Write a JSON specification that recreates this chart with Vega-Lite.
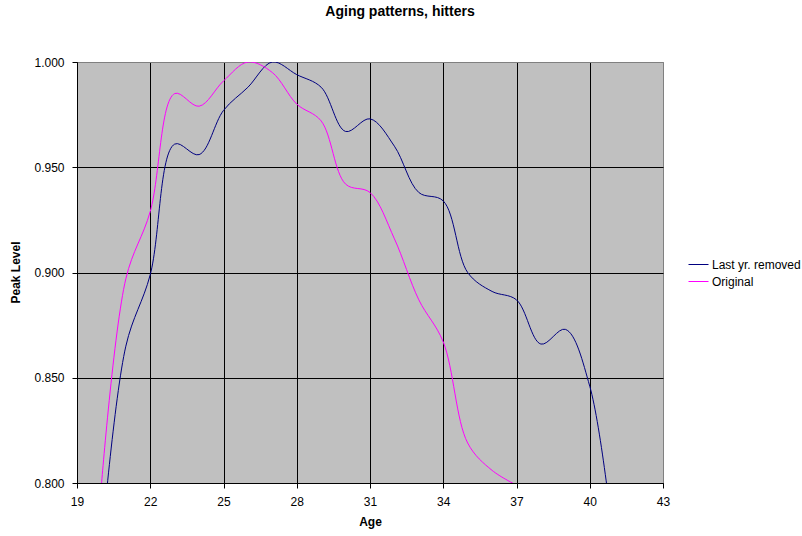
{
  "$schema": "https://vega.github.io/schema/vega-lite/v6.json",
  "autosize": {"type": "none"},
  "width": 586,
  "height": 421,
  "padding": {"left": 77, "top": 62, "right": 139, "bottom": 53},
  "background": "white",
  "title": {
    "text": "Aging patterns, hitters",
    "font": "Liberation Sans",
    "fontSize": 14,
    "fontWeight": "bold",
    "color": "black",
    "anchor": "middle",
    "dx": 30,
    "offset": 37
  },
  "data": {
    "values": [
      {"age": 20, "level": 0.770, "series": "Last yr. removed"},
      {"age": 21, "level": 0.865, "series": "Last yr. removed"},
      {"age": 22, "level": 0.899, "series": "Last yr. removed"},
      {"age": 23, "level": 0.961, "series": "Last yr. removed"},
      {"age": 24, "level": 0.956, "series": "Last yr. removed"},
      {"age": 25, "level": 0.977, "series": "Last yr. removed"},
      {"age": 26, "level": 0.988, "series": "Last yr. removed"},
      {"age": 27, "level": 1.000, "series": "Last yr. removed"},
      {"age": 28, "level": 0.994, "series": "Last yr. removed"},
      {"age": 29, "level": 0.988, "series": "Last yr. removed"},
      {"age": 30, "level": 0.967, "series": "Last yr. removed"},
      {"age": 31, "level": 0.973, "series": "Last yr. removed"},
      {"age": 32, "level": 0.960, "series": "Last yr. removed"},
      {"age": 33, "level": 0.938, "series": "Last yr. removed"},
      {"age": 34, "level": 0.934, "series": "Last yr. removed"},
      {"age": 35, "level": 0.900, "series": "Last yr. removed"},
      {"age": 36, "level": 0.891, "series": "Last yr. removed"},
      {"age": 37, "level": 0.887, "series": "Last yr. removed"},
      {"age": 38, "level": 0.866, "series": "Last yr. removed"},
      {"age": 39, "level": 0.873, "series": "Last yr. removed"},
      {"age": 40, "level": 0.846, "series": "Last yr. removed"},
      {"age": 41, "level": 0.770, "series": "Last yr. removed"},
      {"age": 20, "level": 0.799, "series": "Original"},
      {"age": 21, "level": 0.897, "series": "Original"},
      {"age": 22, "level": 0.929, "series": "Original"},
      {"age": 23, "level": 0.985, "series": "Original"},
      {"age": 24, "level": 0.979, "series": "Original"},
      {"age": 25, "level": 0.991, "series": "Original"},
      {"age": 26, "level": 1.000, "series": "Original"},
      {"age": 27, "level": 0.995, "series": "Original"},
      {"age": 28, "level": 0.980, "series": "Original"},
      {"age": 29, "level": 0.972, "series": "Original"},
      {"age": 30, "level": 0.942, "series": "Original"},
      {"age": 31, "level": 0.938, "series": "Original"},
      {"age": 32, "level": 0.916, "series": "Original"},
      {"age": 33, "level": 0.887, "series": "Original"},
      {"age": 34, "level": 0.867, "series": "Original"},
      {"age": 35, "level": 0.819, "series": "Original"},
      {"age": 36, "level": 0.806, "series": "Original"},
      {"age": 37, "level": 0.799, "series": "Original"}
    ]
  },
  "mark": {"type": "line", "interpolate": "catmull-rom", "clip": true, "strokeWidth": 1},
  "encoding": {
    "x": {
      "field": "age",
      "type": "quantitative",
      "scale": {"domain": [19, 43], "nice": false, "zero": false},
      "axis": {
        "title": "Age",
        "values": [19, 22, 25, 28, 31, 34, 37, 40, 43],
        "titleY": 33,
        "titleBaseline": "top",
        "labelPadding": 8,
        "gridColor": {"condition": {"test": "datum.value === 43", "value": "#808080"}, "value": "black"}
      }
    },
    "y": {
      "field": "level",
      "type": "quantitative",
      "scale": {"domain": [0.8, 1.0], "nice": false, "zero": false},
      "axis": {
        "title": "Peak Level",
        "values": [0.8, 0.85, 0.9, 0.95, 1.0],
        "format": ".3f",
        "labelPadding": 8,
        "titleX": -62,
        "titleY": 210,
        "titleAngle": -90,
        "titleAlign": "center",
        "titleBaseline": "middle",
        "gridColor": {"condition": {"test": "datum.value === 1", "value": "#808080"}, "value": "black"}
      }
    },
    "color": {
      "field": "series",
      "type": "nominal",
      "scale": {"domain": ["Last yr. removed", "Original"], "range": ["#000080", "#FF00FF"]},
      "legend": {
        "title": null,
        "orient": "none",
        "legendX": 611,
        "legendY": 192,
        "padding": 0,
        "symbolType": "stroke",
        "symbolSize": 400,
        "symbolStrokeWidth": 1,
        "rowPadding": -1,
        "labelOffset": 3,
        "labelFont": "Liberation Sans",
        "labelFontSize": 12,
        "labelColor": "black",
        "labelLimit": 200
      }
    }
  },
  "config": {
    "view": {"fill": "#C0C0C0", "stroke": "#808080", "strokeWidth": 1},
    "axis": {
      "grid": true,
      "gridWidth": 1,
      "gridOpacity": 1,
      "domainColor": "black",
      "tickColor": "black",
      "tickSize": 5,
      "labelFlush": false,
      "labelOverlap": false,
      "labelFont": "Liberation Sans",
      "labelFontSize": 12,
      "labelColor": "black",
      "titleFont": "Liberation Sans",
      "titleFontSize": 12,
      "titleFontWeight": "bold",
      "titleColor": "black"
    }
  }
}
